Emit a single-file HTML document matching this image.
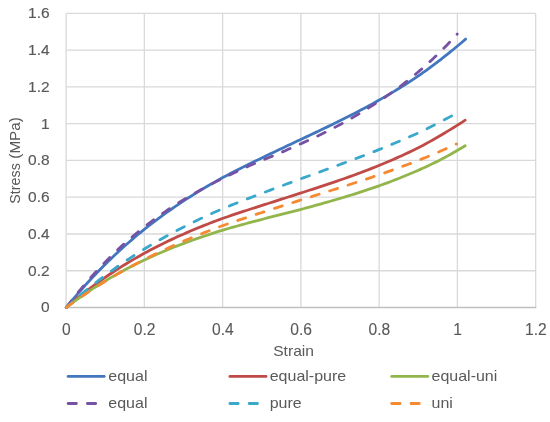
<!DOCTYPE html><html><head><meta charset="utf-8"><style>html,body{margin:0;padding:0;background:#fff;overflow:hidden}svg{display:block}text{font-family:"Liberation Sans",sans-serif;fill:#595959;font-size:15px}</style></head><body>
<svg width="550" height="422" viewBox="0 0 550 422">
<rect width="550" height="422" fill="#fff"/>
<g stroke="#D9D9D9" stroke-width="1.3"><line x1="66.10" y1="270.74" x2="535.66" y2="270.74"/><line x1="66.10" y1="233.98" x2="535.66" y2="233.98"/><line x1="66.10" y1="197.22" x2="535.66" y2="197.22"/><line x1="66.10" y1="160.46" x2="535.66" y2="160.46"/><line x1="66.10" y1="123.70" x2="535.66" y2="123.70"/><line x1="66.10" y1="86.94" x2="535.66" y2="86.94"/><line x1="66.10" y1="50.18" x2="535.66" y2="50.18"/><line x1="66.10" y1="13.42" x2="535.66" y2="13.42"/><line x1="66.10" y1="13.42" x2="66.10" y2="307.50"/><line x1="144.36" y1="13.42" x2="144.36" y2="307.50"/><line x1="222.62" y1="13.42" x2="222.62" y2="307.50"/><line x1="300.88" y1="13.42" x2="300.88" y2="307.50"/><line x1="379.14" y1="13.42" x2="379.14" y2="307.50"/><line x1="457.40" y1="13.42" x2="457.40" y2="307.50"/><line x1="535.66" y1="13.42" x2="535.66" y2="307.50"/></g>
<line x1="65.50" y1="307.50" x2="536.26" y2="307.50" stroke="#BFBFBF" stroke-width="1.3"/>
<path d="M66.30 307.40 L69.30 303.75 L72.30 300.16 L75.30 296.62 L78.30 293.14 L81.30 289.72 L84.30 286.35 L87.30 283.04 L90.30 279.78 L93.30 276.57 L96.30 273.42 L99.30 270.31 L102.30 267.26 L105.30 264.26 L108.30 261.30 L111.30 258.40 L114.30 255.54 L117.30 252.73 L120.30 249.96 L123.30 247.24 L126.30 244.56 L129.30 241.93 L132.30 239.34 L135.30 236.79 L138.30 234.29 L141.30 231.82 L144.30 229.40 L147.30 227.01 L150.30 224.66 L153.30 222.35 L156.30 220.08 L159.30 217.84 L162.30 215.63 L165.30 213.47 L168.30 211.33 L171.30 209.23 L174.30 207.16 L177.30 205.12 L180.30 203.12 L183.30 201.14 L186.30 199.19 L189.30 197.27 L192.30 195.38 L195.30 193.51 L198.30 191.67 L201.30 189.86 L204.30 188.07 L207.30 186.30 L210.30 184.56 L213.30 182.84 L216.30 181.14 L219.30 179.46 L222.30 177.83 L225.30 176.23 L228.30 174.65 L231.30 173.08 L234.30 171.53 L237.30 170.00 L240.30 168.48 L243.30 166.98 L246.30 165.49 L249.30 164.02 L252.30 162.55 L255.30 161.10 L258.30 159.66 L261.30 158.21 L264.30 156.75 L267.30 155.30 L270.30 153.86 L273.30 152.42 L276.30 150.99 L279.30 149.57 L282.30 148.15 L285.30 146.73 L288.30 145.32 L291.30 143.91 L294.30 142.50 L297.30 141.09 L300.30 139.68 L303.30 138.27 L306.30 136.86 L309.30 135.45 L312.30 134.03 L315.30 132.61 L318.30 131.19 L321.30 129.76 L324.30 128.32 L327.30 126.88 L330.30 125.43 L333.30 123.97 L336.30 122.50 L339.30 121.02 L342.30 119.54 L345.30 118.04 L348.30 116.52 L351.30 115.00 L354.30 113.46 L357.30 111.91 L360.30 110.34 L363.30 108.75 L366.30 107.15 L369.30 105.53 L372.30 103.90 L375.30 102.24 L378.30 100.57 L381.30 98.87 L384.30 97.15 L387.30 95.41 L390.30 93.65 L393.30 91.86 L396.30 90.05 L399.30 88.21 L402.30 86.35 L405.30 84.46 L408.30 82.55 L411.30 80.60 L414.30 78.63 L417.30 76.62 L420.30 74.58 L423.30 72.47 L426.30 70.32 L429.30 68.14 L432.30 65.92 L435.30 63.68 L438.30 61.39 L441.30 59.07 L444.30 56.72 L447.30 54.32 L450.30 51.89 L453.30 49.47 L456.30 47.01 L459.30 44.51 L462.30 41.97 L465.30 39.38 L465.70 39.04" fill="none" stroke="#4277BE" stroke-width="2.8" stroke-linecap="round" stroke-linejoin="round"/>
<path d="M66.30 307.40 L69.30 304.84 L72.30 302.32 L75.30 299.84 L78.30 297.41 L81.30 295.02 L84.30 292.67 L87.30 290.36 L90.30 288.09 L93.30 285.86 L96.30 283.66 L99.30 281.51 L102.30 279.39 L105.30 277.31 L108.30 275.26 L111.30 273.25 L114.30 271.28 L117.30 269.34 L120.30 267.43 L123.30 265.56 L126.30 263.72 L129.30 261.91 L132.30 260.13 L135.30 258.39 L138.30 256.67 L141.30 254.98 L144.30 253.33 L147.30 251.70 L150.30 250.10 L153.30 248.52 L156.30 246.98 L159.30 245.46 L162.30 243.96 L165.30 242.49 L168.30 241.04 L171.30 239.62 L174.30 238.22 L177.30 236.85 L180.30 235.49 L183.30 234.16 L186.30 232.85 L189.30 231.56 L192.30 230.28 L195.30 229.03 L198.30 227.79 L201.30 226.58 L204.30 225.38 L207.30 224.19 L210.30 223.03 L213.30 221.88 L216.30 220.74 L219.30 219.62 L222.30 218.54 L225.30 217.49 L228.30 216.46 L231.30 215.43 L234.30 214.42 L237.30 213.41 L240.30 212.42 L243.30 211.43 L246.30 210.46 L249.30 209.49 L252.30 208.53 L255.30 207.58 L258.30 206.64 L261.30 205.68 L264.30 204.70 L267.30 203.73 L270.30 202.76 L273.30 201.80 L276.30 200.83 L279.30 199.87 L282.30 198.92 L285.30 197.96 L288.30 197.00 L291.30 196.05 L294.30 195.09 L297.30 194.14 L300.30 193.18 L303.30 192.22 L306.30 191.25 L309.30 190.29 L312.30 189.32 L315.30 188.34 L318.30 187.36 L321.30 186.37 L324.30 185.38 L327.30 184.38 L330.30 183.37 L333.30 182.36 L336.30 181.34 L339.30 180.30 L342.30 179.26 L345.30 178.21 L348.30 177.14 L351.30 176.07 L354.30 174.98 L357.30 173.88 L360.30 172.76 L363.30 171.63 L366.30 170.49 L369.30 169.33 L372.30 168.16 L375.30 166.97 L378.30 165.76 L381.30 164.53 L384.30 163.29 L387.30 162.03 L390.30 160.75 L393.30 159.45 L396.30 158.13 L399.30 156.78 L402.30 155.42 L405.30 154.03 L408.30 152.62 L411.30 151.19 L414.30 149.73 L417.30 148.25 L420.30 146.74 L423.30 145.15 L426.30 143.53 L429.30 141.88 L432.30 140.21 L435.30 138.51 L438.30 136.78 L441.30 135.02 L444.30 133.23 L447.30 131.41 L450.30 129.57 L453.30 127.74 L456.30 125.89 L459.30 124.00 L462.30 122.08 L465.20 120.19" fill="none" stroke="#BF4A47" stroke-width="2.8" stroke-linecap="round" stroke-linejoin="round"/>
<path d="M66.30 307.40 L69.30 305.14 L72.30 302.92 L75.30 300.74 L78.30 298.60 L81.30 296.49 L84.30 294.43 L87.30 292.40 L90.30 290.40 L93.30 288.44 L96.30 286.52 L99.30 284.63 L102.30 282.78 L105.30 280.96 L108.30 279.17 L111.30 277.41 L114.30 275.69 L117.30 274.00 L120.30 272.33 L123.30 270.70 L126.30 269.10 L129.30 267.53 L132.30 265.98 L135.30 264.47 L138.30 262.98 L141.30 261.52 L144.30 260.08 L147.30 258.67 L150.30 257.29 L153.30 255.93 L156.30 254.59 L159.30 253.28 L162.30 251.99 L165.30 250.73 L168.30 249.48 L171.30 248.26 L174.30 247.06 L177.30 245.88 L180.30 244.72 L183.30 243.58 L186.30 242.45 L189.30 241.35 L192.30 240.26 L195.30 239.19 L198.30 238.14 L201.30 237.10 L204.30 236.08 L207.30 235.08 L210.30 234.09 L213.30 233.11 L216.30 232.14 L219.30 231.19 L222.30 230.29 L225.30 229.40 L228.30 228.53 L231.30 227.67 L234.30 226.82 L237.30 225.98 L240.30 225.15 L243.30 224.33 L246.30 223.51 L249.30 222.70 L252.30 221.90 L255.30 221.11 L258.30 220.32 L261.30 219.53 L264.30 218.75 L267.30 217.98 L270.30 217.21 L273.30 216.44 L276.30 215.67 L279.30 214.91 L282.30 214.15 L285.30 213.38 L288.30 212.62 L291.30 211.86 L294.30 211.10 L297.30 210.33 L300.30 209.56 L303.30 208.75 L306.30 207.94 L309.30 207.12 L312.30 206.29 L315.30 205.47 L318.30 204.63 L321.30 203.79 L324.30 202.95 L327.30 202.10 L330.30 201.24 L333.30 200.37 L336.30 199.50 L339.30 198.61 L342.30 197.72 L345.30 196.82 L348.30 195.90 L351.30 194.98 L354.30 194.04 L357.30 193.09 L360.30 192.13 L363.30 191.16 L366.30 190.17 L369.30 189.17 L372.30 188.15 L375.30 187.12 L378.30 186.07 L381.30 185.00 L384.30 183.92 L387.30 182.82 L390.30 181.70 L393.30 180.56 L396.30 179.41 L399.30 178.23 L402.30 177.03 L405.30 175.82 L408.30 174.58 L411.30 173.32 L414.30 172.04 L417.30 170.73 L420.30 169.40 L423.30 168.05 L426.30 166.67 L429.30 165.26 L432.30 163.83 L435.30 162.38 L438.30 160.90 L441.30 159.36 L444.30 157.75 L447.30 156.11 L450.30 154.45 L453.30 152.75 L456.30 151.03 L459.30 149.27 L462.30 147.49 L465.20 145.73" fill="none" stroke="#92B64C" stroke-width="2.8" stroke-linecap="round" stroke-linejoin="round"/>
<path d="M66.30 307.40 L69.30 303.48 L72.30 299.64 L75.30 295.87 L78.30 292.17 L81.30 288.54 L84.30 284.99 L87.30 281.50 L90.30 278.08 L93.30 274.73 L96.30 271.44 L99.30 268.22 L102.30 265.06 L105.30 261.97 L108.30 258.93 L111.30 255.96 L114.30 253.05 L117.30 250.19 L120.30 247.39 L123.30 244.65 L126.30 241.96 L129.30 239.33 L132.30 236.75 L135.30 234.22 L138.30 231.75 L141.30 229.32 L144.30 226.94 L147.30 224.61 L150.30 222.32 L153.30 220.08 L156.30 217.89 L159.30 215.73 L162.30 213.62 L165.30 211.55 L168.30 209.52 L171.30 207.53 L174.30 205.58 L177.30 203.66 L180.30 201.78 L183.30 199.93 L186.30 198.12 L189.30 196.34 L192.30 194.59 L195.30 192.87 L198.30 191.18 L201.30 189.51 L204.30 187.88 L207.30 186.27 L210.30 184.68 L213.30 183.12 L216.30 181.58 L219.30 180.06 L222.30 178.56 L225.30 177.08 L228.30 175.62 L231.30 174.18 L234.30 172.75 L237.30 171.34 L240.30 169.94 L243.30 168.55 L246.30 167.18 L249.30 165.81 L252.30 164.52 L255.30 163.25 L258.30 161.99 L261.30 160.74 L264.30 159.49 L267.30 158.25 L270.30 157.01 L273.30 155.77 L276.30 154.53 L279.30 153.29 L282.30 151.99 L285.30 150.67 L288.30 149.34 L291.30 148.01 L294.30 146.68 L297.30 145.33 L300.30 143.98 L303.30 142.62 L306.30 141.25 L309.30 139.87 L312.30 138.48 L315.30 137.07 L318.30 135.65 L321.30 134.21 L324.30 132.76 L327.30 131.29 L330.30 129.79 L333.30 128.22 L336.30 126.63 L339.30 125.02 L342.30 123.38 L345.30 121.72 L348.30 120.04 L351.30 118.32 L354.30 116.59 L357.30 114.82 L360.30 113.02 L363.30 111.19 L366.30 109.33 L369.30 107.44 L372.30 105.56 L375.30 103.66 L378.30 101.72 L381.30 99.74 L384.30 97.73 L387.30 95.68 L390.30 93.58 L393.30 91.45 L396.30 89.27 L399.30 87.05 L402.30 84.78 L405.30 82.47 L408.30 80.11 L411.30 77.71 L414.30 75.25 L417.30 72.74 L420.30 70.18 L423.30 67.57 L426.30 64.91 L429.30 62.19 L432.30 59.42 L435.30 56.59 L438.30 53.70 L441.30 50.75 L444.30 47.74 L447.30 44.67 L450.30 41.54 L453.30 38.35 L456.30 35.09 L457.20 34.10" fill="none" stroke="#7552A3" stroke-width="2.8" stroke-linecap="round" stroke-linejoin="round" stroke-dasharray="8.3 11"/>
<path d="M66.30 307.40 L69.30 304.71 L72.30 302.07 L75.30 299.46 L78.30 296.89 L81.30 294.36 L84.30 291.87 L87.30 289.41 L90.30 286.99 L93.30 284.60 L96.30 282.25 L99.30 279.94 L102.30 277.65 L105.30 275.41 L108.30 273.19 L111.30 271.01 L114.30 268.86 L117.30 266.74 L120.30 264.65 L123.30 262.60 L126.30 260.57 L129.30 258.57 L132.30 256.61 L135.30 254.67 L138.30 252.76 L141.30 250.88 L144.30 249.02 L147.30 247.19 L150.30 245.39 L153.30 243.62 L156.30 241.86 L159.30 240.14 L162.30 238.44 L165.30 236.76 L168.30 235.11 L171.30 233.48 L174.30 231.87 L177.30 230.28 L180.30 228.72 L183.30 227.18 L186.30 225.65 L189.30 224.15 L192.30 222.67 L195.30 221.21 L198.30 219.76 L201.30 218.33 L204.30 216.93 L207.30 215.53 L210.30 214.16 L213.30 212.80 L216.30 211.46 L219.30 210.13 L222.30 208.86 L225.30 207.61 L228.30 206.38 L231.30 205.16 L234.30 203.95 L237.30 202.76 L240.30 201.58 L243.30 200.41 L246.30 199.25 L249.30 198.10 L252.30 196.96 L255.30 195.83 L258.30 194.71 L261.30 193.58 L264.30 192.42 L267.30 191.27 L270.30 190.13 L273.30 188.99 L276.30 187.86 L279.30 186.74 L282.30 185.62 L285.30 184.51 L288.30 183.40 L291.30 182.30 L294.30 181.19 L297.30 180.10 L300.30 179.00 L303.30 177.91 L306.30 176.81 L309.30 175.72 L312.30 174.63 L315.30 173.54 L318.30 172.45 L321.30 171.36 L324.30 170.27 L327.30 169.18 L330.30 168.08 L333.30 166.98 L336.30 165.88 L339.30 164.78 L342.30 163.67 L345.30 162.56 L348.30 161.44 L351.30 160.32 L354.30 159.19 L357.30 158.05 L360.30 156.91 L363.30 155.76 L366.30 154.61 L369.30 153.44 L372.30 152.27 L375.30 151.09 L378.30 149.89 L381.30 148.69 L384.30 147.48 L387.30 146.26 L390.30 145.02 L393.30 143.77 L396.30 142.52 L399.30 141.24 L402.30 139.96 L405.30 138.66 L408.30 137.35 L411.30 136.02 L414.30 134.68 L417.30 133.32 L420.30 131.94 L423.30 130.49 L426.30 129.02 L429.30 127.54 L432.30 126.04 L435.30 124.52 L438.30 122.98 L441.30 121.42 L444.30 119.85 L447.30 118.25 L450.30 116.64 L453.30 115.06 L456.30 113.46 L457.30 112.92" fill="none" stroke="#3AA8CA" stroke-width="2.8" stroke-linecap="round" stroke-linejoin="round" stroke-dasharray="8.3 11"/>
<path d="M66.30 307.40 L69.30 305.22 L72.30 303.06 L75.30 300.94 L78.30 298.85 L81.30 296.79 L84.30 294.75 L87.30 292.75 L90.30 290.77 L93.30 288.82 L96.30 286.90 L99.30 285.00 L102.30 283.13 L105.30 281.29 L108.30 279.47 L111.30 277.68 L114.30 275.91 L117.30 274.16 L120.30 272.45 L123.30 270.75 L126.30 269.08 L129.30 267.43 L132.30 265.80 L135.30 264.20 L138.30 262.62 L141.30 261.06 L144.30 259.52 L147.30 258.00 L150.30 256.51 L153.30 255.03 L156.30 253.57 L159.30 252.13 L162.30 250.72 L165.30 249.31 L168.30 247.93 L171.30 246.57 L174.30 245.22 L177.30 243.89 L180.30 242.58 L183.30 241.28 L186.30 240.00 L189.30 238.74 L192.30 237.49 L195.30 236.26 L198.30 235.04 L201.30 233.83 L204.30 232.64 L207.30 231.46 L210.30 230.29 L213.30 229.14 L216.30 228.00 L219.30 226.87 L222.30 225.79 L225.30 224.73 L228.30 223.68 L231.30 222.64 L234.30 221.61 L237.30 220.59 L240.30 219.58 L243.30 218.58 L246.30 217.59 L249.30 216.61 L252.30 215.63 L255.30 214.66 L258.30 213.70 L261.30 212.73 L264.30 211.73 L267.30 210.74 L270.30 209.76 L273.30 208.79 L276.30 207.81 L279.30 206.85 L282.30 205.88 L285.30 204.92 L288.30 203.97 L291.30 203.01 L294.30 202.06 L297.30 201.12 L300.30 200.17 L303.30 199.23 L306.30 198.28 L309.30 197.34 L312.30 196.40 L315.30 195.46 L318.30 194.51 L321.30 193.57 L324.30 192.63 L327.30 191.68 L330.30 190.73 L333.30 189.78 L336.30 188.83 L339.30 187.88 L342.30 186.92 L345.30 185.96 L348.30 184.99 L351.30 184.02 L354.30 183.04 L357.30 182.06 L360.30 181.08 L363.30 180.09 L366.30 179.09 L369.30 178.08 L372.30 177.07 L375.30 176.05 L378.30 175.03 L381.30 173.99 L384.30 172.95 L387.30 171.89 L390.30 170.83 L393.30 169.76 L396.30 168.68 L399.30 167.59 L402.30 166.49 L405.30 165.37 L408.30 164.25 L411.30 163.11 L414.30 161.96 L417.30 160.80 L420.30 159.62 L423.30 158.41 L426.30 157.17 L429.30 155.93 L432.30 154.67 L435.30 153.39 L438.30 152.10 L441.30 150.80 L444.30 149.48 L447.30 148.14 L450.30 146.79 L453.30 145.45 L456.30 144.09 L456.60 143.95" fill="none" stroke="#F58A32" stroke-width="2.8" stroke-linecap="round" stroke-linejoin="round" stroke-dasharray="8.3 11"/>
<text x="49.6" y="312.40" text-anchor="end" style="font-size:15.5px;stroke:#595959;stroke-width:0.15px" textLength="8.62" lengthAdjust="spacingAndGlyphs">0</text>
<text x="49.6" y="275.64" text-anchor="end" style="font-size:15.5px;stroke:#595959;stroke-width:0.15px" textLength="21.54" lengthAdjust="spacingAndGlyphs">0.2</text>
<text x="49.6" y="238.88" text-anchor="end" style="font-size:15.5px;stroke:#595959;stroke-width:0.15px" textLength="21.54" lengthAdjust="spacingAndGlyphs">0.4</text>
<text x="49.6" y="202.12" text-anchor="end" style="font-size:15.5px;stroke:#595959;stroke-width:0.15px" textLength="21.54" lengthAdjust="spacingAndGlyphs">0.6</text>
<text x="49.6" y="165.36" text-anchor="end" style="font-size:15.5px;stroke:#595959;stroke-width:0.15px" textLength="21.54" lengthAdjust="spacingAndGlyphs">0.8</text>
<text x="49.6" y="128.60" text-anchor="end" style="font-size:15.5px;stroke:#595959;stroke-width:0.15px" textLength="8.62" lengthAdjust="spacingAndGlyphs">1</text>
<text x="49.6" y="91.84" text-anchor="end" style="font-size:15.5px;stroke:#595959;stroke-width:0.15px" textLength="21.54" lengthAdjust="spacingAndGlyphs">1.2</text>
<text x="49.6" y="55.08" text-anchor="end" style="font-size:15.5px;stroke:#595959;stroke-width:0.15px" textLength="21.54" lengthAdjust="spacingAndGlyphs">1.4</text>
<text x="49.6" y="18.32" text-anchor="end" style="font-size:15.5px;stroke:#595959;stroke-width:0.15px" textLength="21.54" lengthAdjust="spacingAndGlyphs">1.6</text>
<text x="66.30" y="334.75" text-anchor="middle" style="font-size:16px;stroke:#595959;stroke-width:0.1px" textLength="8.67" lengthAdjust="spacingAndGlyphs">0</text>
<text x="144.56" y="334.75" text-anchor="middle" style="font-size:16px;stroke:#595959;stroke-width:0.1px" textLength="21.68" lengthAdjust="spacingAndGlyphs">0.2</text>
<text x="222.82" y="334.75" text-anchor="middle" style="font-size:16px;stroke:#595959;stroke-width:0.1px" textLength="21.68" lengthAdjust="spacingAndGlyphs">0.4</text>
<text x="301.08" y="334.75" text-anchor="middle" style="font-size:16px;stroke:#595959;stroke-width:0.1px" textLength="21.68" lengthAdjust="spacingAndGlyphs">0.6</text>
<text x="379.34" y="334.75" text-anchor="middle" style="font-size:16px;stroke:#595959;stroke-width:0.1px" textLength="21.68" lengthAdjust="spacingAndGlyphs">0.8</text>
<text x="457.60" y="334.75" text-anchor="middle" style="font-size:16px;stroke:#595959;stroke-width:0.1px" textLength="8.67" lengthAdjust="spacingAndGlyphs">1</text>
<text x="535.86" y="334.75" text-anchor="middle" style="font-size:16px;stroke:#595959;stroke-width:0.1px" textLength="21.68" lengthAdjust="spacingAndGlyphs">1.2</text>
<text x="293.6" y="356.4" text-anchor="middle" textLength="40.75" lengthAdjust="spacingAndGlyphs">Strain</text>
<g transform="translate(20 0) rotate(-90)"><text x="-203.7" y="0" textLength="40.5" lengthAdjust="spacingAndGlyphs">Stress</text><text x="-158.65" y="0" textLength="41.4" lengthAdjust="spacingAndGlyphs">(MPa)</text></g>
<line x1="68.1" y1="376.4" x2="104.2" y2="376.4" stroke="#4277BE" stroke-width="2.8" stroke-linecap="round"/>
<text x="108.3" y="380.9" textLength="39.14" lengthAdjust="spacingAndGlyphs">equal</text>
<line x1="229.9" y1="376.4" x2="266.0" y2="376.4" stroke="#BF4A47" stroke-width="2.8" stroke-linecap="round"/>
<text x="269.7" y="380.9" textLength="76.48" lengthAdjust="spacingAndGlyphs">equal-pure</text>
<line x1="391.7" y1="376.4" x2="427.8" y2="376.4" stroke="#92B64C" stroke-width="2.8" stroke-linecap="round"/>
<text x="431.5" y="380.9" textLength="65.81" lengthAdjust="spacingAndGlyphs">equal-uni</text>
<line x1="68.1" y1="403.5" x2="104.2" y2="403.5" stroke="#7552A3" stroke-width="2.8" stroke-linecap="round" stroke-dasharray="8.3 11"/>
<text x="108.3" y="408.0" textLength="39.14" lengthAdjust="spacingAndGlyphs">equal</text>
<line x1="229.9" y1="403.5" x2="266.0" y2="403.5" stroke="#3AA8CA" stroke-width="2.8" stroke-linecap="round" stroke-dasharray="8.3 11"/>
<text x="269.7" y="408.0" textLength="32.02" lengthAdjust="spacingAndGlyphs">pure</text>
<line x1="391.7" y1="403.5" x2="427.8" y2="403.5" stroke="#F58A32" stroke-width="2.8" stroke-linecap="round" stroke-dasharray="8.3 11"/>
<text x="431.5" y="408.0" textLength="21.34" lengthAdjust="spacingAndGlyphs">uni</text>
</svg></body></html>
